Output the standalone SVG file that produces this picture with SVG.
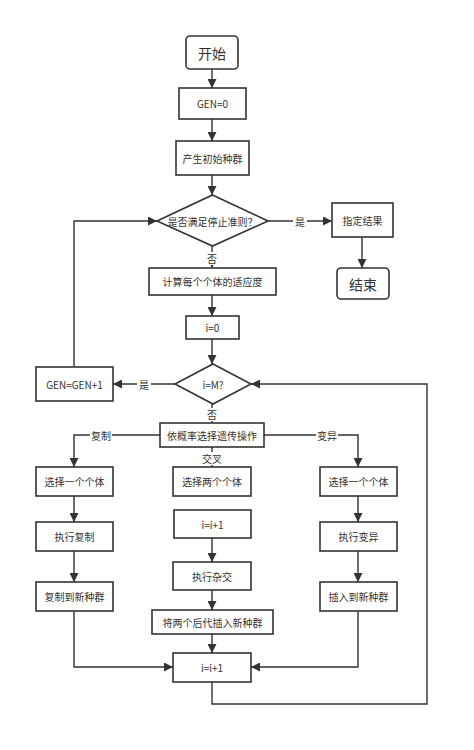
<svg xmlns="http://www.w3.org/2000/svg" width="474" height="750" viewBox="0 0 474 750">
<defs>
<marker id="ah" viewBox="0 0 10 10" refX="10" refY="5" markerWidth="9" markerHeight="9" markerUnits="userSpaceOnUse" orient="auto">
<path d="M0,0 L10,5 L0,10 Z" fill="#333"/>
</marker>
<style>
.n{fill:#fff;stroke:#333;stroke-width:1.6}
.t{font-family:"Noto Sans CJK SC","Noto Sans",sans-serif;font-size:10px;fill:#333;text-anchor:middle;dominant-baseline:central}
.big{font-size:14px}
.c{fill:none;stroke:#333;stroke-width:1.4}
.a{marker-end:url(#ah)}
.lb{fill:#fff}
</style>
</defs>
<rect width="474" height="750" fill="#fff"/>
<g id="connectors">
<path class="c a" d="M212,69 V88"/>
<path class="c a" d="M212,119 V141"/>
<path class="c a" d="M212,175 V195"/>
<path class="c a" d="M268,221 H332"/>
<path class="c a" d="M362,237 V268"/>
<path class="c a" d="M212,246 V268"/>
<path class="c a" d="M212,295 V316"/>
<path class="c a" d="M212,339 V364"/>
<path class="c a" d="M175,384 H113"/>
<path class="c a" d="M74,367 V221 H157"/>
<path class="c" d="M212,404 V423"/>
<path class="c a" d="M160,435 H74 V467"/>
<path class="c a" d="M264,435 H358 V467"/>
<path class="c" d="M212,447 V467"/>
<path class="c a" d="M74,496 V522"/>
<path class="c a" d="M358,496 V522"/>
<path class="c a" d="M212,538 V562"/>
<path class="c a" d="M212,590 V610"/>
<path class="c a" d="M212,634 V653"/>
<path class="c a" d="M74,551 V582"/>
<path class="c a" d="M358,551 V582"/>
<path class="c a" d="M74,611 V667 H173"/>
<path class="c a" d="M358,611 V667 H251"/>
<path class="c a" d="M212,682 V704 H427 V384 H251"/>
<rect class="lb" x="293" y="214" width="14" height="14"/>
<text class="t" x="300" y="221">是</text>
<rect class="lb" x="205" y="252" width="14" height="13"/>
<text class="t" x="212" y="258">否</text>
<rect class="lb" x="137" y="377" width="14" height="14"/>
<text class="t" x="144" y="384">是</text>
<rect class="lb" x="205" y="408" width="14" height="13"/>
<text class="t" x="212" y="414">否</text>
<rect class="lb" x="90" y="429" width="22" height="13"/>
<text class="t" x="101" y="435">复制</text>
<rect class="lb" x="316" y="429" width="22" height="13"/>
<text class="t" x="327" y="435">变异</text>
<rect class="lb" x="201" y="452" width="22" height="13"/>
<text class="t" x="212" y="458">交叉</text>
</g>
<g id="start"><rect class="n" x="186" y="36" width="52" height="33" rx="4"/><text class="t big" x="212" y="52.5">开始</text></g>
<g id="gen0"><rect class="n" x="179" y="88" width="67" height="31"/><text class="t" x="212.5" y="103.5">GEN=0</text></g>
<g id="init"><rect class="n" x="176" y="141" width="73" height="34"/><text class="t" x="212.5" y="158">产生初始种群</text></g>
<g id="stopcheck"><path class="n" d="M212.5,195 L268,221 L212.5,246 L157,221 Z"/><text class="t" x="212.5" y="221">是否满足停止准则？</text></g>
<g id="result"><rect class="n" x="332" y="203" width="61" height="34"/><text class="t" x="362.5" y="220">指定结果</text></g>
<g id="end"><rect class="n" x="337" y="268" width="52" height="31" rx="4"/><text class="t big" x="363" y="283.5">结束</text></g>
<g id="fitness"><rect class="n" x="149" y="268" width="127" height="27"/><text class="t" x="212.5" y="281.5">计算每个个体的适应度</text></g>
<g id="i0"><rect class="n" x="186" y="316" width="53" height="23"/><text class="t" x="212.5" y="327.5">i=0</text></g>
<g id="imcheck"><path class="n" d="M213,364 L251,384 L213,404 L175,384 Z"/><text class="t" x="213" y="384">i=M?</text></g>
<g id="genplus"><rect class="n" x="36" y="367" width="77" height="34"/><text class="t" x="74.5" y="384">GEN=GEN+1</text></g>
<g id="select_op"><rect class="n" x="160" y="423" width="104" height="24"/><text class="t" x="212" y="435">依概率选择遗传操作</text></g>
<g id="sel1l"><rect class="n" x="36" y="467" width="77" height="29"/><text class="t" x="74.5" y="481.5">选择一个个体</text></g>
<g id="sel2"><rect class="n" x="173" y="467" width="78" height="29"/><text class="t" x="212" y="481.5">选择两个个体</text></g>
<g id="sel1r"><rect class="n" x="320" y="467" width="77" height="29"/><text class="t" x="358.5" y="481.5">选择一个个体</text></g>
<g id="iinc1"><rect class="n" x="174" y="510" width="77" height="28"/><text class="t" x="212.5" y="524">i=i+1</text></g>
<g id="copy"><rect class="n" x="36" y="522" width="77" height="29"/><text class="t" x="74.5" y="536.5">执行复制</text></g>
<g id="mutate"><rect class="n" x="320" y="522" width="77" height="29"/><text class="t" x="358.5" y="536.5">执行变异</text></g>
<g id="cross"><rect class="n" x="173" y="562" width="78" height="28"/><text class="t" x="212" y="576">执行杂交</text></g>
<g id="copynew"><rect class="n" x="36" y="582" width="77" height="29"/><text class="t" x="74.5" y="596.5">复制到新种群</text></g>
<g id="insnew"><rect class="n" x="320" y="582" width="77" height="29"/><text class="t" x="358.5" y="596.5">插入到新种群</text></g>
<g id="offspring"><rect class="n" x="152" y="610" width="121" height="24"/><text class="t" x="212.5" y="622">将两个后代插入新种群</text></g>
<g id="iinc2"><rect class="n" x="173" y="653" width="78" height="29"/><text class="t" x="212" y="667.5">i=i+1</text></g>
</svg>
